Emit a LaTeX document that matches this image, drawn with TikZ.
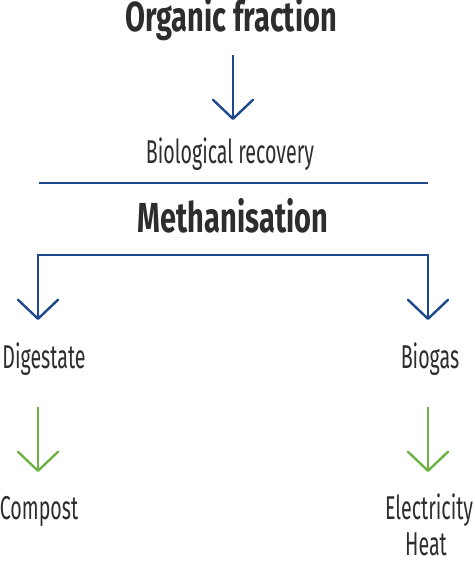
\documentclass[tikz,border=0pt]{standalone}
\usepackage{fontspec}
\usetikzlibrary{arrows.meta}
\newfontfamily\txtf[FakeStretch=0.595]{Fira Sans}
\newfontfamily\ttlf[FakeStretch=0.69]{Fira Sans}
\definecolor{arrblue}{RGB}{30,72,140}
\definecolor{arrgreen}{RGB}{110,178,70}
\definecolor{txtgray}{RGB}{45,45,45}
\tikzset{
  x=1pt, y=-1pt,
  bluearr/.style={draw=arrblue, line width=2.4pt, -{Straight Barb[length=19pt,width=40pt,round]}},
  greenarr/.style={draw=arrgreen, line width=2.4pt, -{Straight Barb[length=19pt,width=40pt,round]}},
  bluebar/.style={draw=arrblue, line width=2.4pt},
  title/.style={anchor=base, inner sep=0pt, text=txtgray, font=\ttlf\bfseries\fontsize{42}{44}\selectfont},
  label/.style={anchor=base, inner sep=0pt, text=txtgray, font=\txtf\fontsize{33}{35}\selectfont},
}
\begin{document}
\begin{tikzpicture}
\useasboundingbox (0,0) rectangle (474,562);
\node[title] (org) at (231,31) {Organic fraction};
\node[label] (bio) at (230,163) {Biological recovery};
\node[title] (meth) at (233,232) {Methanisation};
\node[label] (dig) at (44,368) {Digestate};
\node[label] (bgs) at (430,368) {Biogas};
\node[label] (comp) at (39,519) {Compost};
\node[label] (elec) at (429,519) {Electricity};
\node[label] (heat) at (426,555) {Heat};
\coordinate (a1s) at (233,55);
\coordinate (a1e) at (233,120);
\coordinate (hl) at (39,183);
\coordinate (hr) at (428,183);
\coordinate (bl) at (38,255);
\coordinate (br) at (428,255);
\coordinate (dtip) at (38,320);
\coordinate (btip) at (428,320);
\coordinate (g1s) at (38,407);
\coordinate (g1e) at (38,472);
\coordinate (g2s) at (428,407);
\coordinate (g2e) at (428,472);
\draw[bluearr] (a1s) -- (a1e);
\draw[bluebar] (hl) -- (hr);
\draw[bluearr, {Straight Barb[length=19pt,width=40pt,round]}-{Straight Barb[length=19pt,width=40pt,round]}] (dtip) -- (bl) -- (br) -- (btip);
\draw[greenarr] (g1s) -- (g1e);
\draw[greenarr] (g2s) -- (g2e);
\end{tikzpicture}
\end{document}
